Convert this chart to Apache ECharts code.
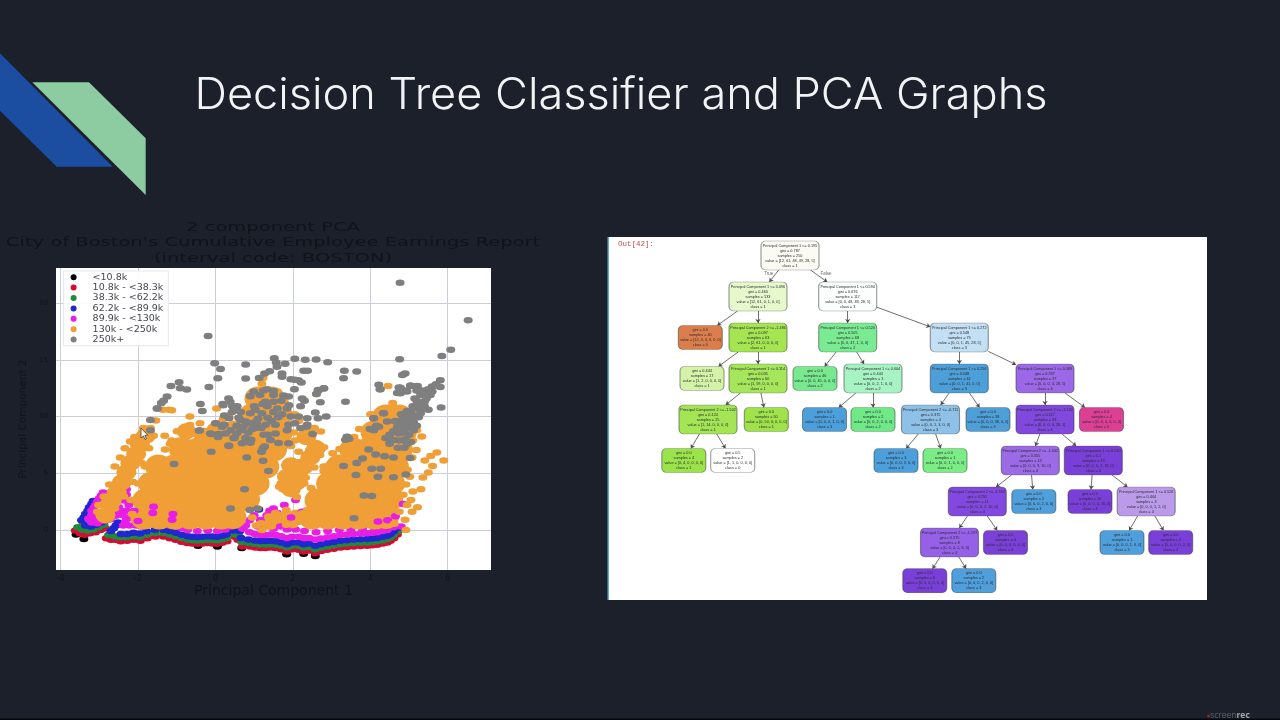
<!DOCTYPE html>
<html>
<head>
<meta charset="utf-8">
<style>
  html, body { margin: 0; padding: 0; background: #1c202b; }
  #main { width: 1280px; height: 720px; filter: blur(0.5px); }
</style>
<script src="https://cdn.jsdelivr.net/npm/echarts@6/dist/echarts.min.js"></script>
</head>
<body>
<div id="main"></div>
<script>
// PCA scatter, values
const xTicks = [-4, -2, 0, 2, 4, 6];
const yTicks = [0, 5, 10, 15, 20];
const pcaTitle = ['2 component PCA', "City of Boston's Cumulative Employee Earnings Report", '(interval code: BOSTON)'];
const classNames = ['<10.8k', '10.8k - <38.3k', '38.3k - <62.2k', '62.2k - <89.9k', '89.9k - <130k', '130k - <250k', '250k+'];

const blackPoints = [[-3.6, -.4], [-3.4, -.8], [.68, -1.6], [1.84, -2.15], [2.28, -2.1], [2.58, -2.3], [-.45, -1.4], [.05, -1.45]];

const redPoints = [
  [-3.62, -.05], [-3.5, -.28], [-3.38, -.42], [-3.24, -.3], [-3.1, -.2], [-2.97, 0], [-2.85, .15],
  [-2.82, -.72], [-2.7, -.87], [-2.58, -.87], [-2.45, -1], [-2.28, -.96], [-2.11, -.87], [-1.94, -.96], [-1.76, -.72], [-1.55, -.57], [-1.34, -.57],
  [-1.18, -.72], [-1.03, -.87], [-.88, -1.03], [-.73, -1.16], [-.6, -1.2], [-.47, -1.22], [-.34, -1.2], [-.21, -1.16], [-.08, -1.2], [.04, -1.22], [.17, -1.12], [.3, -1], [.5, -.6],
  [.58, -.87], [.7, -1.45], [.9, -1.45], [1.03, -1.55], [1.16, -1.6], [1.29, -1.6], [1.42, -1.55], [1.55, -1.6], [1.7, -1.7], [1.85, -1.9], [1.98, -1.7],
  [2.15, -1.75], [2.28, -1.9], [2.42, -1.8], [2.58, -2.05], [2.73, -1.85], [2.89, -1.75], [3.06, -1.65], [3.23, -1.55], [3.4, -1.5], [3.57, -1.45], [3.75, -1.42], [3.92, -1.4], [4.05, -1.35], [4.18, -1.3], [4.32, -1.2], [4.44, -1.1], [4.52, -.95], [4.61, -.72], [4.7, -.4]
];
const greenPoints = [
  [-3.56, .25], [-3.44, .05], [-3.3, -.05], [-3.16, .05], [-3.02, .25], [-2.88, .45], [-3.42, .55],
  [-2.76, -.44], [-2.62, -.55], [-2.48, -.65], [-2.3, -.65], [-2.12, -.55], [-1.95, -.62], [-1.78, -.42], [-1.56, -.27], [-1.34, -.27], [-1.18, -.4], [-1.02, -.55], [-.87, -.7], [-.72, -.85], [-.6, -.9], [-.47, -.92], [-.34, -.9], [-.2, -.86], [-.08, -.88], [.05, -.9], [.17, -.82], [.28, -.7], [.47, -.35],
  [.6, -.5], [.68, -1.05], [.85, -1.15], [1.02, -1.22], [1.16, -1.28], [1.29, -1.28], [1.42, -1.25], [1.56, -1.3], [1.7, -1.4], [1.85, -1.55], [1.98, -1.4], [2.15, -1.4], [2.28, -1.55], [2.42, -1.5], [2.58, -1.7], [2.73, -1.55], [2.9, -1.45], [3.06, -1.35], [3.23, -1.25], [3.4, -1.2], [3.57, -1.15], [3.75, -1.12], [3.92, -1.1], [4.05, -1.05], [4.18, -1], [4.32, -.9], [4.44, -.8], [4.52, -.65], [4.6, -.42], [4.72, -.1]
];
const bluePoints = [
  [-3.46, .85], [-3.4, 1.1], [-3.36, 1.4], [-3.3, 1.7], [-3.26, 2], [-3.2, 2.3], [-3.16, 2.55], [-3.36, .4], [-3.22, .3], [-3.08, .45], [-2.94, .65], [-2.8, .9],
  [-2.7, -.1], [-2.63, .15], [-2.57, .4], [-2.52, .65], [-2.44, -.35], [-2.28, -.35], [-2.12, -.25], [-1.95, -.32], [-1.78, -.12], [-1.56, .03], [-1.34, .03], [-1.18, -.1], [-1.02, -.25], [-.87, -.42], [-.72, -.55], [-.6, -.6], [-.47, -.62], [-.34, -.6], [-.2, -.56], [-.08, -.58], [.05, -.6], [.17, -.52], [.28, -.4], [.45, -.05],
  [.63, -.1], [.72, .2], [.66, -.7], [.85, -.85], [1.02, -.92], [1.16, -.98], [1.29, -.98], [1.42, -.95], [1.56, -1], [1.7, -1.1], [1.85, -1.25], [1.98, -1.1], [2.15, -1.1], [2.28, -1.25], [2.42, -1.2], [2.58, -1.4], [2.73, -1.25], [2.9, -1.15], [3.06, -1.05], [3.23, -.95], [3.4, -.9], [3.57, -.85], [3.75, -.82], [3.92, -.8], [4.05, -.75], [4.18, -.7], [4.32, -.6], [4.44, -.5], [4.52, -.35], [4.6, -.12], [4.74, .2], [1.12, 1.8]
];
const magentaPoints = [
  [-3.28, 1], [-3.2, .65], [-3.12, .85], [-3.05, .6], [-2.96, .95], [-2.88, .8], [-2.8, 1.2], [-2.72, .95], [-2.65, 1.5], [-2.58, 1.25], [-2.5, 2], [-2.44, 1.7], [-2.36, 2.6], [-2.3, 3.1], [-3.2, 1.3], [-3.2, 1.7], [-3.14, 1.95], [-3.1, 2.2], [-3.05, 2.5], [-3, 2.8], [-2.95, 3.05], [-2.9, 3.3], [-3.08, 1.4], [-2.9, 1.1],
  [-2.41, 1.32], [-2.24, 2.2], [-2.33, .73], [-2.2, 1.06], [-2.22, .4], [-2.38, .4], [-2.3, 1.05], [-2.3, 1.7], [-2.18, 1.55], [-2.05, .4], [-1.9, .3], [-1.75, .45], [-1.58, .55], [-1.36, .55], [-1.18, .4], [-1.02, .3], [-.87, .15], [-.72, 0], [-.47, -.1], [-.2, -.05], [.05, -.1], [.25, .05], [.42, .3], [-2.3, 3.6],
  [.78, .4], [.88, .85], [1, 1.3], [.7, .1], [.88, -.2], [1.02, -.35], [1.16, -.45], [1.29, -.45], [1.42, -.4], [1.56, -.45], [1.7, -.55], [1.85, -.7], [1.98, -.6], [2.15, -.6], [2.28, -.7], [2.42, -.7], [2.58, -.85], [2.73, -.75], [2.9, -.65], [3.06, -.55], [3.23, -.45], [3.4, -.4], [3.57, -.35], [3.75, -.32], [3.92, -.3], [4.05, -.25], [4.18, -.2], [4.32, -.1], [4.44, 0], [4.6, .25], [4.8, .3],
  [1.1, .3], [1.3, .7], [1.5, .6], [1.7, .8], [1.9, .5], [2, 1], [1.6, 1.5], [1.4, 1.7], [1.2, .1], [1.5, .1], [1.85, .05], [2.07, .05], [2.3, -.1], [2.6, -.2], [2.9, -.1], [3.2, 0], [3.5, .05], [3.8, .1], [4.1, .2]
];
// the magenta that shows through holes in the orange
const magentaSpots = [[-1.6, 2.05], [-1.62, 1.5], [-1.12, .9], [-1.1, 1.4], [-2.1, 1.7], [-2, .8], [1.16, .88], [1.33, 1.3], [1.5, 1.9], [2.07, 2.65], [2.24, 1.6], [1.78, 2.2], [1.95, 1.1], [1.68, .3], [4.45, .85], [4.2, .75], [4.85, 2.3], [4.65, 1.2]];

// big orange dots only paint the solid inside of the blobs
const orangeFill = [
  [-1.85, 1.1], [-1.45, 1.1], [-1.05, 1.1], [-.65, 1.1], [-.25, 1.1], [.15, 1.1], [.45, 1.15],
  [-1.8, 2.6], [-1.4, 2.6], [-1, 2.6], [-.6, 2.6], [-.2, 2.6], [.2, 2.6], [.55, 2.6], [.8, 2.7],
  [-1.65, 4.1], [-1.25, 4.1], [-.85, 4.1], [-.45, 4.1], [-.05, 4.1], [.35, 4.1], [.75, 4.1], [1.05, 4.1],
  [-1.47, 5.6], [-1.07, 5.6], [-.67, 5.6], [-.27, 5.6], [.13, 5.6], [.53, 5.6], [.93, 5.6], [1.3, 5.6],
  [-.85, 7.1], [-.45, 7.1], [-.05, 7.1], [.35, 7.1], [.75, 7.1], [1.15, 7.1], [1.5, 7.1],
  [.1, 8.6], [.5, 8.6], [.9, 8.6], [1.3, 8.6], [1.65, 8.6], [.95, 10.1], [1.35, 10.1], [1.65, 10.1], [1.1, 11.6], [1.45, 11.6],
  [2.5, 1.1], [2.9, 1.1], [3.3, 1.1], [3.7, 1.1], [4.1, 1.1], [4.4, 1.15],
  [2.65, 2.6], [3.05, 2.6], [3.45, 2.6], [3.85, 2.6], [4.25, 2.6], [4.5, 2.7],
  [2.95, 4.1], [3.35, 4.1], [3.75, 4.1], [4.15, 4.1], [4.55, 4.1],
  [3.2, 5.6], [3.6, 5.6], [4, 5.6], [4.4, 5.6], [4.65, 5.6],
  [3.55, 7.1], [3.95, 7.1], [4.35, 7.1], [4.75, 7.1],
  [4.1, 8.6], [4.5, 8.6], [4.85, 8.6], [4.4, 10], [4.75, 10]
];
// medium dots for the narrow strip on the left and the patches between the blobs
const orangeStrip = [
  [-2.84, 1.3], [-2.74, 2.2], [-2.68, 2.6], [-2.55, 3.3], [-2.42, 4.2], [-2.3, 5.1], [-2.2, 5.9], [-2.05, 6.7], [-1.95, 7.5], [-1.8, 8.3],
  [1.85, 4.7], [2.1, 4.2], [2.2, 5.4], [1.95, 3.6], [1.95, 5.7], [1.4, .7], [1.75, .9], [2.1, 1.1], [-.75, 8.7], [-.3, 8.3], [2.6, 7.2], [2.35, 8.2], [2.45, 6.4]
];
const orangePoints = [
  // strip on the left
  [-3.05, 1.6], [-2.9, 1.45], [-2.75, 1.6], [-2.6, 1.9], [-3.02, 2.2], [-2.88, 2.95], [-2.74, 4], [-2.6, 5.6], [-2.46, 6.4], [-2.34, 7.2], [-2.2, 7.8], [-2.09, 8.2], [-1.86, 9], [-2.37, 2.95], [-2.14, 4.26], [-1.91, 5.9], [-1.72, 7.2], [-1.6, 8.3], [-1.54, 9.65], [-1.68, 9],
  // left edge and stray dots of the middle blob
  [-2.15, 1.4], [-2.19, 2.65], [-2, 4.1], [-1.82, 5.6], [-1.45, 6.3], [-1.13, 7.9], [-1.3, 7.1], [-.76, 9.1], [-1.36, 10.6], [-1.2, 10.6], [-1.13, 10.55], [-.66, 10], [-.66, 9.26], [-.99, 8.7], [-.71, 8.6], [-1.31, 8.3], [-.39, 8.1], [-.32, 7.95], [.03, 10.7], [-.94, 7.9], [-1.17, 7.6], [-.57, 7.65], [-.75, 7], [-.5, 7.2], [-.2, 8.2], [-.05, 7.9],
  [-.4, 9.4], [-.35, 8.7], [.35, 10.1], [.55, 10.6], [.2, 9.8],
  // top of the middle blob
  [1.23, 13.4], [1.2, 12.9], [1.09, 12.35], [1, 12], [.95, 11.4], [1.78, 11.3], [2.61, 12], [1.85, 10.8], [1.2, 12.1], [1.6, 12.2], [2.05, 10.2], [2.15, 9.6], [2.02, 8.6], [2.05, 7.9], [1.95, 7.4], [1.75, 7.3],
  // between the two big blobs
  [1.83, 5], [2.01, 4.7], [1.69, 4.1], [1.65, 3.8], [1.96, 4.26], [1.87, 3.8], [2.06, 3.4], [2.29, 4.1], [2.33, 4.6], [2.38, 5.3], [1.96, 5.3], [1.92, 5.9], [2.2, 6], [1.74, 3.6], [2.1, 2.9], [1.18, .6], [1.37, 1.18], [1.64, .88], [1.55, 1.5], [1.83, 1.76], [1.73, 1.05], [1.45, .45], [1.2, 0], [1.83, .45], [2.01, .44], [2.24, 1.47], [2.38, 1.76], [1.05, .4], [.95, 1.1],
  [2.38, 8.8], [2.72, 8.68], [2.56, 9], [2.33, 7.8], [2.61, 7.65], [2.8, 7.3], [2.15, 6.9], [2.43, 7.05], [2.47, 6.5], [2.7, 6.6], [3.03, 6.76], [3.21, 7.15], [2.8, 5.6], [2.93, 5.7], [3.12, 6.3], [2.47, 3.7], [2.8, 5.2], [2.55, 5.5],
  // right side of the right blob
  [5.9, 6.12], [5.72, 6.82], [5.56, 6.53], [5.41, 6.12], [5.61, 5.65], [5.5, 5.06], [5.36, 4.62], [5.31, 3.59], [5.22, 2], [5.05, 2.65], [5.08, 1.6], [4.92, 0], [5.33, 8.24], [5.19, 7.06], [5.15, 10.6], [4.58, 11.2], [4.46, 12.7], [4.01, 10.2], [3.72, 8.9], [4.01, 8.85], [3.58, 8.2], [4.32, 9.7], [4.46, 9.4], [4.78, 9.1], [4.96, 5.3], [5.08, 6.4], [5.02, 4.7], [4.92, 4], [5.1, 3.4], [4.85, 3.1], [4.95, 2.2], [4.75, 1.6], [4.9, .9], [4.62, .55], [5.2, 8.8], [5.1, 7.9]
];
const grayPoints = [
  [4.77, 21.8], [6.53, 18.5], [-.19, 17.1], [6.08, 15.9], [5.85, 15.35], [4.76, 15.06], [1.52, 15.15], [1.57, 14.76], [1.59, 14.4], [1.8, 14.65], [2.05, 15.1], [2.32, 15], [2.6, 15.03], [2.9, 14.8], [-.02, 14.7], [.13, 14.2], [.78, 14.6],
  [1.4, 14], [1.27, 13.8], [1.13, 13.4], [1.72, 13.8], [1.72, 13.5], [2.28, 14.05], [2.38, 14.05], [3.33, 14.03], [3.65, 13.97], [4.9, 13.8], [4.83, 13.67], [3.31, 13.38], [.06, 13.38], [.78, 13.35],
  [-.94, 13.03], [-1.15, 12.7], [-.91, 12.5], [-.74, 12.38], [-.17, 12.6], [1.95, 13.3], [2.05, 13.25], [2.14, 13.2], [2.22, 13], [2.04, 12.4], [2.8, 12.47], [2.66, 12.3], [2.61, 12],
  [4.22, 12.8], [4.25, 12.4], [4.78, 12.05], [4.78, 12.55], [4.92, 12.3], [5.04, 12.7], [5.22, 12.7], [5.83, 10.8], [5.5, 10.6], [3.36, 11.3], [4.34, 10.3], [4.09, 9.85], [4.16, 9.2], [3.99, 8.9], [3.4, 8.2], [3.45, 8.05],
  [3.96, 7.1], [4.14, 6.65], [4.37, 6.5], [3.8, 6.3], [3.65, 5.9], [4.6, 6.4], [5.03, 6.35], [4.04, 5.4], [4.27, 5.4], [4.2, 4.7], [4.6, 4.65], [4.92, 4.9], [3.31, 5.65], [3.63, 4.85], [3.84, 3.03], [4.04, 3], [3.58, 1.03],
  [.75, 3.6], [.39, 1.9], [.89, 1.76], [1.09, 1.9], [-1.07, 5.82], [-.11, 6.9], [.81, 6.4], [1.23, 6.1], [1.37, 5.2],
  [.34, 11.6], [.38, 11.3], [-.39, 11.1], [-.34, 10.5], [-1.51, 10.7], [-1.34, 11.4], [-1.25, 11.77], [-1.4, 11.2],
  [.19, 11.1], [0, 9.4], [.23, 10.1], [.23, 9.27], [-.13, 8.5], [-.41, 8.77], [.56, 10.9], [.43, 10.4], [.65, 10.4], [.9, 11.8], [.99, 12.2], [1.24, 12.3], [1.33, 12.4], [1.5, 11.9], [1.76, 11.85], [1.89, 11.77], [1.29, 11.3], [1.34, 10.9], [1.6, 10.7], [1.85, 10.7], [1.9, 11], [2.24, 11.6], [2.3, 11.4], [2.2, 10.9], [1.95, 10], [2.15, 10], [2.37, 9.86], [2.58, 10.35], [2.65, 9.86], [2.86, 10], [2.71, 11.27], [2.65, 12.35], [2.8, 12.5],
  [2.37, 9.27], [2.2, 9], [2.51, 8.47], [1.89, 9.27], [1.55, 9.27], [1.3, 9.27], [1.08, 9.27], [.9, 9.4], [.78, 9.56], [.55, 9.2], [.65, 9.7], [.9, 10.3], [1.03, 10.6], [1, 10.9], [1.22, 11.1], [1.1, 9.8], [1.35, 9.9], [1.62, 9.95], [1.2, 10.3], [.72, 9.1], [.95, 8.9], [1.18, 9],
  [.82, 7.8], [.78, 8.1], [.92, 7.95], [.69, 7.65], [.34, 7.44], [1.25, 8.4], [1.35, 8.4], [.47, 8.1], [.26, 8.5], [.08, 8.47], [.65, 8.8], [1.03, 9], [1.42, 7.94], [1.63, 7.67], [1.89, 7.65], [1.23, 7.2], [1.27, 7.35], [1.19, 6.9],
  [.81, 7.94], [.9, 7.7], [.35, 7.4], [.49, 8.1], [.07, 8.2], [-.11, 8.47], [-.42, 8.76], [.01, 9.4], [.17, 9.1], [.2, 11], [.44, 10.9], [.53, 10.6], [.35, 9.85], [-1.5, 10.7], [-1.68, 9.7], [-1.68, 8.8],
  [1.5, 12.25], [1.15, 11.9], [1.7, 11.4], [1.5, 11.3], [2.05, 9.4], [1.72, 10.2], [2.35, 9.1], [.55, 8.5], [.4, 8.8], [1.55, 8.5], [1.85, 8.8], [1.5, 10.4], [1.05, 9.55], [1.45, 9.6], [.85, 8.6], [.6, 9.9],
  [5.81, 13.2], [5.6, 12.65], [5.7, 12.85], [5.81, 12.6], [5.5, 12.4], [5.43, 12.07], [5.55, 11.9], [5.38, 11.3], [5.3, 11.9], [5.2, 11.4], [5.4, 10.9], [5.25, 10.7], [5.04, 10], [5.15, 10.1], [5.3, 10.3], [4.95, 9.6], [5.12, 9.5], [4.86, 9.1], [5, 9], [5.2, 9.2], [4.73, 8.5], [4.85, 8.6], [5, 8.4], [4.6, 7.94], [4.75, 7.9], [4.9, 8], [5.05, 7.75], [4.5, 7.6], [4.72, 7.25], [4.88, 7.25], [5.1, 10.9], [4.95, 10.5], [4.8, 10.2], [4.65, 9.6], [5.45, 11.6], [4.5, 8.4],
  [5.35, 12.3], [5.2, 11], [5.05, 10.5], [5.3, 11.2], [4.95, 9.95], [5.45, 12.05], [5.1, 9.7], [4.8, 9.55], [4.7, 9.05], [4.6, 8.7], [5.12, 8.8], [4.4, 8.1], [4.9, 8.9], [5.15, 11.6], [5.6, 12.2], [5.25, 9.95], [5.4, 11.3], [5, 10.2], [4.85, 9.9], [5.05, 9.25], [4.75, 8.85], [4.5, 8], [4.95, 7.6], [5.3, 10.7],
  [4.74, 12.56], [4.95, 12.2], [4.7, 12.07], [4.26, 12.4], [5.04, 12.75], [5.2, 12.65], [5.2, 12.3], [4.35, 10.3], [4.09, 9.86], [4.22, 9.1], [4.09, 8.8], [4.44, 9.56], [4.65, 9.56], [3.4, 8.23], [3.36, 7.95]
];

// decision tree, x in panel units, depth is the row of the node
const nodeX = [182, 150, 239.7, 92.3, 150, 239.7, 351.3, 94, 150, 207, 265, 351.3, 437, 100, 158.3, 216.5, 265, 322.5, 380, 437, 493.5, 75.8, 124.7, 288, 337, 422.3, 485.3, 369.3, 425.8, 482, 538.2, 341.5, 397.5, 514, 562.7, 316.8, 365.8];
const nodeDepth = [0, 1, 1, 2, 2, 2, 2, 3, 3, 3, 3, 3, 3, 4, 4, 4, 4, 4, 4, 4, 4, 5, 5, 5, 5, 5, 5, 6, 6, 6, 6, 7, 7, 7, 7, 7.93, 7.93];
const nodeText = [
  'Principal Component 1 <= 0.195\ngini = 0.787\nsamples = 250\nvalue = [12, 61, 48, 49, 28, 5]\nclass = 1',
  'Principal Component 1 <= 0.096\ngini = 0.460\nsamples = 133\nvalue = [12, 61, 0, 1, 0, 0]\nclass = 1',
  'Principal Component 1 <= 0.594\ngini = 0.676\nsamples = 117\nvalue = [0, 0, 48, 48, 28, 5]\nclass = 3',
  'gini = 0.0\nsamples = 40\nvalue = [12, 0, 0, 0, 0, 0]\nclass = 0',
  'Principal Component 2 <= -1.486\ngini = 0.097\nsamples = 63\nvalue = [2, 61, 0, 0, 0, 0]\nclass = 1',
  'Principal Component 1 <= 0.520\ngini = 0.505\nsamples = 68\nvalue = [0, 0, 47, 1, 0, 0]\nclass = 2',
  'Principal Component 1 <= 0.272\ngini = 0.548\nsamples = 79\nvalue = [0, 0, 1, 45, 28, 5]\nclass = 3',
  'gini = 0.444\nsamples = 17\nvalue = [1, 2, 0, 0, 0, 0]\nclass = 1',
  'Principal Component 1 <= 0.114\ngini = 0.035\nsamples = 60\nvalue = [1, 59, 0, 0, 0, 0]\nclass = 1',
  'gini = 0.0\nsamples = 46\nvalue = [0, 0, 45, 0, 0, 0]\nclass = 2',
  'Principal Component 1 <= 0.604\ngini = 0.444\nsamples = 3\nvalue = [0, 0, 2, 1, 0, 0]\nclass = 2',
  'Principal Component 1 <= 0.256\ngini = 0.048\nsamples = 42\nvalue = [0, 0, 1, 41, 0, 0]\nclass = 3',
  'Principal Component 1 <= 0.589\ngini = 0.397\nsamples = 37\nvalue = [0, 0, 0, 4, 28, 5]\nclass = 4',
  'Principal Component 2 <= -1.502\ngini = 0.124\nsamples = 15\nvalue = [1, 14, 0, 0, 0, 0]\nclass = 1',
  'gini = 0.0\nsamples = 50\nvalue = [0, 50, 0, 0, 0, 0]\nclass = 1',
  'gini = 0.0\nsamples = 1\nvalue = [0, 0, 0, 1, 0, 0]\nclass = 3',
  'gini = 0.0\nsamples = 2\nvalue = [0, 0, 2, 0, 0, 0]\nclass = 2',
  'Principal Component 2 <= -0.711\ngini = 0.375\nsamples = 4\nvalue = [0, 0, 1, 3, 0, 0]\nclass = 3',
  'gini = 0.0\nsamples = 38\nvalue = [0, 0, 0, 38, 0, 0]\nclass = 3',
  'Principal Component 2 <= -1.122\ngini = 0.117\nsamples = 33\nvalue = [0, 0, 0, 4, 28, 1]\nclass = 4',
  'gini = 0.0\nsamples = 4\nvalue = [0, 0, 0, 0, 0, 4]\nclass = 5',
  'gini = 0.0\nsamples = 4\nvalue = [0, 4, 0, 0, 0, 0]\nclass = 1',
  'gini = 0.5\nsamples = 2\nvalue = [1, 1, 0, 0, 0, 0]\nclass = 0',
  'gini = 0.0\nsamples = 3\nvalue = [0, 0, 0, 3, 0, 0]\nclass = 3',
  'gini = 0.0\nsamples = 1\nvalue = [0, 0, 1, 0, 0, 0]\nclass = 2',
  'Principal Component 2 <= -1.502\ngini = 0.355\nsamples = 13\nvalue = [0, 0, 0, 3, 10, 0]\nclass = 4',
  'Principal Component 1 <= 0.510\ngini = 0.1\nsamples = 19\nvalue = [0, 0, 0, 1, 18, 0]\nclass = 4',
  'Principal Component 2 <= -1.592\ngini = 0.292\nsamples = 11\nvalue = [0, 0, 0, 2, 10, 0]\nclass = 4',
  'gini = 0.0\nsamples = 2\nvalue = [0, 0, 0, 2, 0, 0]\nclass = 3',
  'gini = 0.0\nsamples = 16\nvalue = [0, 0, 0, 0, 16, 0]\nclass = 4',
  'Principal Component 1 <= 0.526\ngini = 0.444\nsamples = 3\nvalue = [0, 0, 0, 1, 2, 0]\nclass = 4',
  'Principal Component 2 <= -1.597\ngini = 0.375\nsamples = 8\nvalue = [0, 0, 0, 2, 6, 0]\nclass = 4',
  'gini = 0.0\nsamples = 4\nvalue = [0, 0, 0, 0, 4, 0]\nclass = 4',
  'gini = 0.0\nsamples = 1\nvalue = [0, 0, 0, 1, 0, 0]\nclass = 3',
  'gini = 0.0\nsamples = 2\nvalue = [0, 0, 0, 0, 2, 0]\nclass = 4',
  'gini = 0.0\nsamples = 6\nvalue = [0, 0, 0, 0, 6, 0]\nclass = 4',
  'gini = 0.0\nsamples = 2\nvalue = [0, 0, 0, 2, 0, 0]\nclass = 3'
];
const edgeFrom = [0, 0, 1, 1, 2, 2, 4, 4, 5, 5, 6, 6, 8, 8, 10, 10, 11, 11, 12, 12, 13, 13, 17, 17, 19, 19, 25, 25, 26, 26, 27, 27, 30, 30, 31, 31];
const edgeTo = [1, 2, 3, 4, 5, 6, 7, 8, 9, 10, 11, 12, 13, 14, 15, 16, 17, 18, 19, 20, 21, 22, 23, 24, 25, 26, 27, 28, 29, 30, 31, 32, 33, 34, 35, 36];

// fill of each tree node
const nodeFill = ['#fbfbf4', '#e6f8cc', '#fbfefc', '#dc7d4c', '#a5e552', '#7aeb92', '#c3dff3',
  '#d4f3a8', '#a5e65a', '#79e98f', '#a8f3c4', '#4d9fd9', '#9c68e8',
  '#a4e556', '#9fe24a', '#4d9fdb', '#70e987', '#8ec1e8', '#4e9fd8', '#8048dd', '#dc3f94',
  '#9be34a', '#ffffff', '#4d9fdb', '#7aee85', '#9c6ae6', '#7a3fd8',
  '#8348e0', '#4f9fdc', '#7a3fd8', '#bb9aea', '#9660e8', '#7a40d8', '#4f9fdc', '#7a3fd8', '#7a3fd8', '#4f9fdc'];
const classColors = ['#000000', '#d40b33', '#1f8a3a', '#2027d0', '#e81ee6', '#ef9f36', '#7f7f7f'];

const rowPx = 41; // one tree row on screen
const boxPath = 'path://M4.5,0H53.5A4.5,4.5 0 0 1 58,4.5V24.5A4.5,4.5 0 0 1 53.5,29H4.5A4.5,4.5 0 0 1 0,24.5V4.5A4.5,4.5 0 0 1 4.5,0Z';
const leafPath = 'path://M4.5,0H39.5A4.5,4.5 0 0 1 44,4.5V19.5A4.5,4.5 0 0 1 39.5,24H4.5A4.5,4.5 0 0 1 0,19.5V4.5A4.5,4.5 0 0 1 4.5,0Z';
function isSplit(i) {
  return nodeText[i].indexOf('Principal') === 0;
}
function nodeSize(i) {
  return isSplit(i) ? [58, 29] : [44, 24];
}
// where the line centre to centre leaves the box of node a towards node b
function boxExit(a, b) {
  const dx = nodeX[b] - nodeX[a];
  const dy = (nodeDepth[b] - nodeDepth[a]) * rowPx;
  const s = nodeSize(a);
  const t = Math.min(dx === 0 ? 9 : s[0] / 2 / Math.abs(dx), s[1] / 2 / Math.abs(dy));
  return [nodeX[a] + dx * t, nodeDepth[a] + dy * t / rowPx];
}

function dots(name, data, size) {
  return {
    name: name, type: 'scatter', xAxisIndex: 0, yAxisIndex: 0,
    data: data, symbolSize: size, silent: true,
    itemStyle: { color: classColors[classNames.indexOf(name)], opacity: 1 }
  };
}

const chart = echarts.init(document.getElementById('main'), null, { renderer: 'canvas' });

const titleDark = '#10131a';
const dotSize = [9, 6.5];
const option = {
  animation: false,
  backgroundColor: '#1c202b',
  textStyle: { fontFamily: 'DejaVu Sans' },
  graphic: [
    { type: 'polygon', shape: { points: [[0, 53.3], [112.7, 166.7], [56.7, 166.7], [0, 110.7]] }, style: { fill: '#1b4da1' } },
    { type: 'polygon', shape: { points: [[32.3, 82.3], [89, 82.3], [145.7, 138.3], [145.7, 195]] }, style: { fill: '#8dcba1' } },
    { type: 'text', x: 621, y: 95.5, scaleX: 1.025, style: { text: 'Decision Tree Classifier and PCA Graphs', align: 'center', verticalAlign: 'middle', fill: '#f2f3f5', font: '300 44px Inter' } },
    { type: 'text', x: 273, y: 228, scaleX: 1.5, style: { text: pcaTitle[0], align: 'center', verticalAlign: 'middle', fill: titleDark, font: '13px "DejaVu Sans"' } },
    { type: 'text', x: 273, y: 243, scaleX: 1.5, style: { text: pcaTitle[1], align: 'center', verticalAlign: 'middle', fill: titleDark, font: '13px "DejaVu Sans"' } },
    { type: 'text', x: 273, y: 258.6, scaleX: 1.5, style: { text: pcaTitle[2], align: 'center', verticalAlign: 'middle', fill: titleDark, font: '13px "DejaVu Sans"' } },
    { type: 'rect', z: 10, shape: { x: 607.5, y: 237, width: 1.5, height: 363 }, style: { fill: '#63a9d8' } },
    { type: 'text', z: 10, x: 618, y: 244.5, style: { text: 'Out[42]:', verticalAlign: 'middle', fill: '#c4504c', font: '7.5px "Liberation Mono"' } },
    { type: 'polygon', z: 100, shape: { points: [[141, 428], [141, 438], [143.4, 436], [145, 439.5], [146.4, 438.8], [144.8, 435.5], [147.8, 435.2]] }, style: { fill: '#f4f4f4', stroke: '#333', lineWidth: 0.7 } },
    { type: 'rect', shape: { x: 0, y: 718.5, width: 1280, height: 1.5 }, style: { fill: '#07080b' } },
    { type: 'circle', shape: { cx: 1208.5, cy: 716, r: 1.5 }, style: { fill: '#8c2733' } },
    { type: 'text', x: 1236.5, y: 716, style: { text: 'screen', align: 'right', verticalAlign: 'middle', fill: '#5a606c', font: '8.5px "Open Sans"' } },
    { type: 'text', x: 1236.5, y: 716, style: { text: 'rec', align: 'left', verticalAlign: 'middle', fill: '#a2a6ae', font: 'bold 8.5px "Open Sans"' } }
  ],
  grid: [
    { left: 56, top: 268, width: 435, height: 302, show: true, backgroundColor: '#ffffff', borderWidth: 0 },
    { left: 608, top: 237, width: 599, height: 363, show: true, backgroundColor: '#ffffff', borderWidth: 0 }
  ],
  xAxis: [
    {
      gridIndex: 0, type: 'value', min: -4.12, max: 7.12,
      name: 'Principal Component 1', nameLocation: 'middle', nameGap: 13,
      nameTextStyle: { color: titleDark, fontSize: 14, fontFamily: 'DejaVu Sans' },
      axisLine: { show: false }, axisTick: { show: false, customValues: xTicks },
      axisLabel: { customValues: xTicks, color: titleDark, fontSize: 8, margin: 5 },
      splitLine: { show: true, lineStyle: { color: '#c9ced9', width: 1 } }
    },
    { gridIndex: 1, type: 'value', min: 0, max: 599, show: false }
  ],
  yAxis: [
    {
      gridIndex: 0, type: 'value', min: -3.53, max: 23.1,
      name: 'Principal Component 2', nameLocation: 'middle', nameGap: 27,
      nameTextStyle: { color: titleDark, fontSize: 10.5, fontFamily: 'DejaVu Sans' },
      axisLine: { show: false }, axisTick: { show: false, customValues: yTicks },
      axisLabel: { customValues: yTicks, color: titleDark, fontSize: 7, margin: 8 },
      splitLine: { show: true, lineStyle: { color: '#c9ced9', width: 1 } }
    },
    { gridIndex: 1, type: 'value', inverse: true, min: -0.451, max: 8.402, show: false }
  ],
  legend: {
    left: 63.6, top: 271, orient: 'vertical', data: classNames,
    icon: 'circle', itemWidth: 14, itemHeight: 6, itemGap: 0, selectedMode: false,
    padding: [1, 5, 1, 7], backgroundColor: 'rgba(255,255,255,0.9)', borderColor: '#e4e7ed', borderWidth: 1,
    textStyle: { color: '#45474d', fontSize: 9.5, lineHeight: 10.4, padding: [0, 0, 0, 7], fontFamily: 'DejaVu Sans' }
  },
  series: [
    dots(classNames[0], blackPoints, dotSize),
    dots(classNames[1], redPoints, dotSize),
    dots(classNames[2], greenPoints, dotSize),
    dots(classNames[3], bluePoints, dotSize),
    dots(classNames[4], magentaPoints, dotSize),
    dots(classNames[5], orangeFill, [27, 24]),
    dots(classNames[5], orangeStrip, [20, 16]),
    dots(classNames[4], magentaSpots, dotSize),
    dots(classNames[5], orangePoints, dotSize),
    dots(classNames[6], grayPoints, dotSize),
    {
      type: 'lines', coordinateSystem: 'cartesian2d', xAxisIndex: 1, yAxisIndex: 1, silent: true,
      symbol: ['none', 'arrow'], symbolSize: 4,
      lineStyle: { color: '#4a4a4a', width: 0.8, opacity: 1, curveness: 0 },
      data: edgeFrom.map(function (a, i) {
        return { coords: [boxExit(a, edgeTo[i]), boxExit(edgeTo[i], a)] };
      })
    },
    {
      type: 'scatter', xAxisIndex: 1, yAxisIndex: 1, silent: true,
      data: nodeX.map(function (x, i) {
        return {
          value: [x, nodeDepth[i]], symbol: isSplit(i) ? boxPath : leafPath, symbolSize: nodeSize(i),
          itemStyle: { color: nodeFill[i], opacity: 1, borderColor: 'rgba(50,55,50,0.5)', borderWidth: 0.8 },
          label: {
            show: true, position: 'inside', formatter: nodeText[i],
            color: '#2a2d32', fontSize: 3.8, lineHeight: 5, fontFamily: 'Liberation Sans'
          }
        };
      })
    },
    {
      type: 'scatter', xAxisIndex: 1, yAxisIndex: 1, silent: true, symbolSize: 0,
      data: [
        { value: [160.7, 0.444], label: { show: true, position: 'inside', formatter: 'True', color: '#444', fontSize: 4.5, fontFamily: 'Liberation Sans' } },
        { value: [218, 0.444], label: { show: true, position: 'inside', formatter: 'False', color: '#444', fontSize: 4.5, fontFamily: 'Liberation Sans' } }
      ]
    }
  ]
};
chart.setOption(option);
</script>
</body>
</html>
